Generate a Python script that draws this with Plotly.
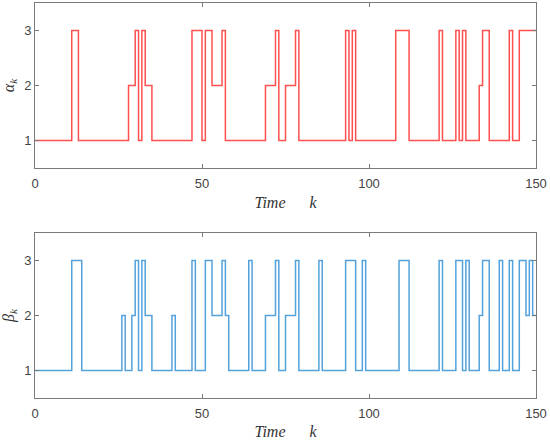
"""
Switching signals alpha_k and beta_k over time, drawn as stairs.
"""

import plotly.graph_objects as go
from plotly.subplots import make_subplots

# -------------------------------------------------
# Data (switch instants and the mode taken there)
# -------------------------------------------------

k_end = 150

alpha_k = [0, 11, 13, 28, 30, 31, 32, 33, 35, 47, 50, 51, 53, 56, 57, 69, 72,
           73, 75, 78, 79, 93, 94, 95, 96, 108, 112, 121, 122, 126, 127, 128,
           129, 133, 134, 136, 142, 143, 145]
alpha_mode = [1, 3, 1, 2, 3, 1, 3, 2, 1, 3, 1, 3, 2, 3, 1, 2, 3,
              1, 2, 3, 1, 3, 1, 3, 1, 3, 1, 3, 1, 3, 1, 3,
              1, 2, 3, 1, 3, 1, 3]

beta_k = [0, 11, 14, 26, 27, 29, 30, 31, 32, 33, 35, 41, 42, 47, 48, 51, 53,
          56, 57, 58, 64, 65, 69, 72, 73, 75, 78, 79, 85, 86, 93, 96, 98, 99,
          109, 112, 121, 122, 126, 128, 129, 130, 133, 134, 136, 139, 140,
          142, 143, 145, 147, 148, 149]
beta_mode = [1, 3, 1, 2, 1, 2, 3, 1, 3, 2, 1, 2, 1, 3, 1, 3, 2,
             3, 2, 1, 3, 1, 2, 3, 1, 2, 3, 1, 3, 1, 3, 1, 3, 1,
             3, 1, 3, 1, 3, 1, 3, 1, 2, 3, 1, 3, 1,
             3, 1, 3, 2, 3, 2]

y_ticks = [1, 2, 3]
x_ticks = [0, 50, 100, 150]

# -------------------------------------------------
# Figure
# -------------------------------------------------

fig = make_subplots(rows=2, cols=1, vertical_spacing=0.164)

fig.add_trace(
    go.Scatter(
        x=alpha_k + [k_end],
        y=alpha_mode + [alpha_mode[-1]],
        mode="lines",
        line=dict(shape="hv", color="rgb(255,80,80)", width=1.5),
        showlegend=False,
    ),
    row=1, col=1,
)

fig.add_trace(
    go.Scatter(
        x=beta_k + [k_end],
        y=beta_mode + [beta_mode[-1]],
        mode="lines",
        line=dict(shape="hv", color="rgb(84,162,220)", width=1.5),
        showlegend=False,
    ),
    row=2, col=1,
)

axis_grey = "#7a7a7a"
tick_font = dict(family="Liberation Sans, Arial", size=13, color="#444444")
title_font = dict(family="Liberation Serif, DejaVu Serif", size=16, color="#333333")

x_title = "<i>Time</i>" + "&nbsp;" * 6 + "<i>k</i>"

for r in (1, 2):
    fig.update_xaxes(
        range=[0, k_end],
        tickvals=x_ticks,
        ticks="inside",
        ticklen=4,
        tickcolor=axis_grey,
        showline=True,
        linecolor=axis_grey,
        linewidth=1,
        mirror="allticks",
        showgrid=False,
        zeroline=False,
        tickfont=tick_font,
        ticklabelstandoff=3,
        title=dict(text=x_title, font=title_font, standoff=7),
        automargin=False,
        row=r, col=1,
    )
    fig.update_yaxes(
        range=[0.5, 3.5],
        tickvals=y_ticks,
        ticks="inside",
        ticklen=4,
        tickcolor=axis_grey,
        showline=True,
        linecolor=axis_grey,
        linewidth=1,
        mirror="allticks",
        showgrid=False,
        zeroline=False,
        tickfont=tick_font,
        automargin=False,
        row=r, col=1,
    )

fig.update_yaxes(title=dict(text="<i>α<sub>k</sub></i>", font=title_font, standoff=8),
                 row=1, col=1)
fig.update_yaxes(title=dict(text="<i>β<sub>k</sub></i>", font=title_font, standoff=8),
                 row=2, col=1)

fig.update_layout(
    width=550,
    height=440,
    margin=dict(l=35, r=14, t=3, b=42),
    paper_bgcolor="white",
    plot_bgcolor="white",
)

# drop the page's default body margin so the figure sits at the window corner
fig.write_html(
    "out.html",
    config={"displayModeBar": False},
    post_script="document.body.style.margin='0';",
)
